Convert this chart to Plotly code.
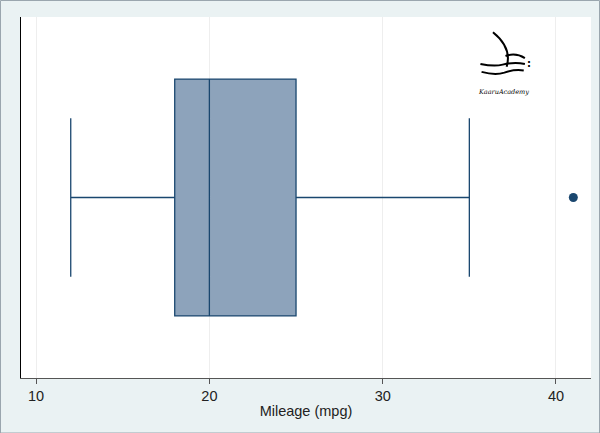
import plotly.graph_objects as go

# Box statistics for Mileage (mpg)
q1 = [18]
median = [20]
q3 = [25]
lower_whisker = [12]
upper_whisker = [35]
outliers = [41]
x_ticks = [10, 20, 30, 40]

fig = go.Figure()
fig.add_trace(go.Box(
    y=[0], q1=q1, median=median, q3=q3,
    lowerfence=lower_whisker, upperfence=upper_whisker,
    orientation="h", width=0.656, whiskerwidth=0.67,
    fillcolor="#8DA3BB", line=dict(color="#1A476F", width=1.3),
    boxpoints=False, hoverinfo="x", showlegend=False,
))
fig.add_trace(go.Scatter(
    x=outliers, y=[0] * len(outliers), mode="markers",
    marker=dict(color="#1A476F", size=9), showlegend=False,
))

shapes = [
    # outer figure border
    dict(type="rect", xref="paper", yref="paper",
         x0=-20.5 / 570, x1=1 + 8.5 / 570, y0=-55 / 361, y1=1 + 16.5 / 361,
         line=dict(color="#9AA6AE", width=1), fillcolor="rgba(0,0,0,0)", layer="below"),
]
# simple decorative logo strokes
logo = [
    "M 0.828,0.958 Q 0.862,0.915 0.852,0.862",
    "M 0.850,0.892 Q 0.868,0.902 0.884,0.886",
    "M 0.806,0.870 Q 0.830,0.862 0.845,0.868 Q 0.865,0.876 0.884,0.870",
    "M 0.808,0.848 Q 0.832,0.838 0.848,0.846 Q 0.866,0.856 0.882,0.852",
]
for p in logo:
    shapes.append(dict(type="path", xref="paper", yref="paper", path=p,
                       line=dict(color="black", width=2)))

fig.update_layout(
    width=600, height=433,
    margin=dict(l=21, r=9, t=17, b=55),
    paper_bgcolor="#EAF2F3", plot_bgcolor="white",
    font=dict(family="Liberation Sans, Arial, sans-serif", size=14.5, color="#222"),
    shapes=shapes,
    annotations=[
        dict(x=0.847, y=0.792, xref="paper", yref="paper",
             xanchor="center", yanchor="middle",
             text="<i>KaaruAcademy</i>", showarrow=False,
             font=dict(family="DejaVu Serif", size=6.5, color="black")),
        dict(x=0.891, y=0.872, xref="paper", yref="paper",
             xanchor="center", yanchor="middle",
             text="<b>:</b>", showarrow=False,
             font=dict(family="DejaVu Sans", size=10, color="black")),
    ],
    xaxis=dict(
        range=[9.13, 42.02], tickvals=x_ticks, showgrid=True, gridcolor="#EEEEEE",
        gridwidth=1, zeroline=False, showline=True, linecolor="#555", linewidth=1,
        ticks="outside", ticklen=5, tickcolor="#555",
        title=dict(text="Mileage (mpg)", standoff=2, font=dict(size=14.5)),
        tickfont=dict(size=14.5),
    ),
    yaxis=dict(
        range=[-0.5, 0.5], showticklabels=False, ticks="", showgrid=False,
        zeroline=False, showline=True, linecolor="black", linewidth=1,
    ),
)

fig.write_html("out.html", config={"displayModeBar": False},
               post_script="document.body.style.margin='0';")
